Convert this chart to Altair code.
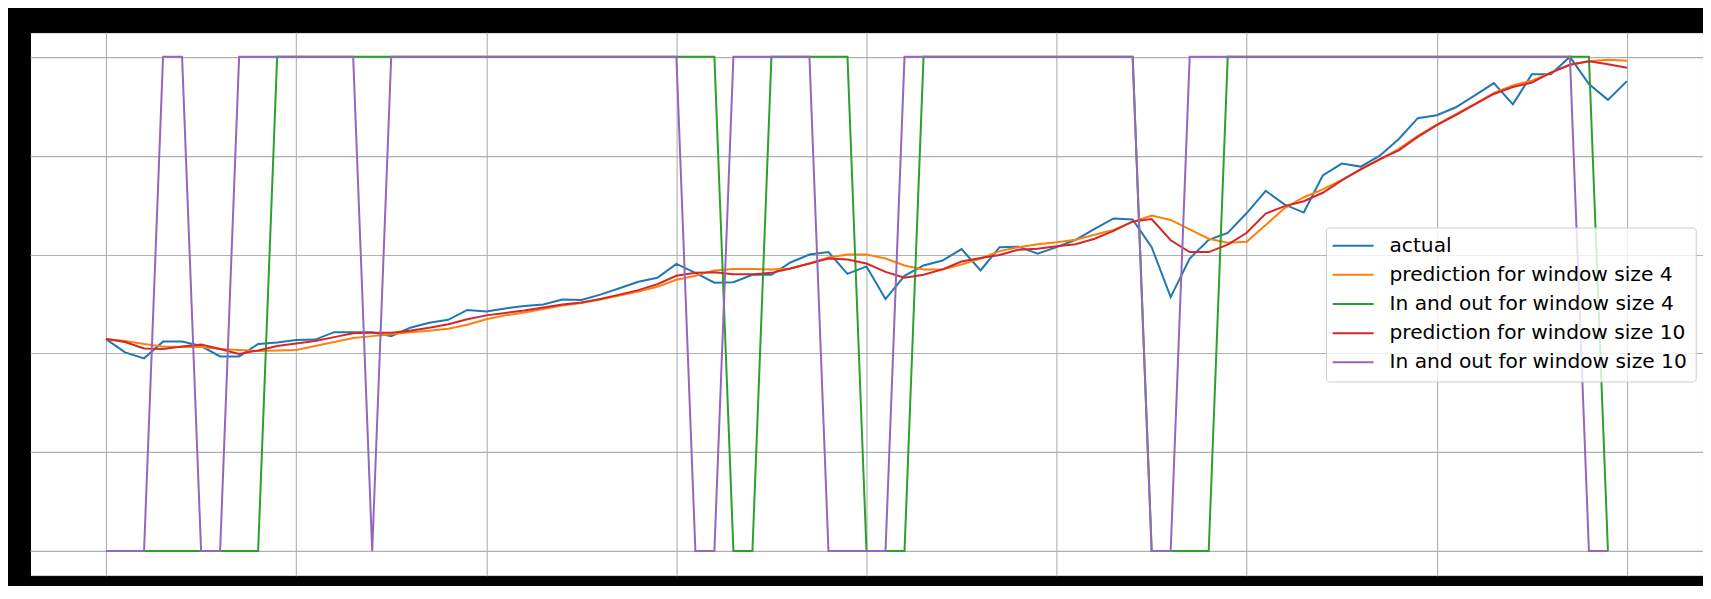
import pandas as pd
import altair as alt

steps = list(range(81))

actual = [
    0.429, 0.402, 0.390, 0.424, 0.424, 0.415, 0.394, 0.394, 0.419, 0.422,
    0.427, 0.428, 0.443, 0.443, 0.443, 0.435, 0.452, 0.462, 0.468, 0.488,
    0.485, 0.491, 0.496, 0.499, 0.509, 0.508, 0.519, 0.532, 0.545, 0.553,
    0.581, 0.563, 0.543, 0.544, 0.559, 0.559, 0.584, 0.600, 0.605, 0.561,
    0.576, 0.510, 0.557, 0.578, 0.588, 0.611, 0.568, 0.615, 0.616, 0.602,
    0.615, 0.630, 0.652, 0.673, 0.671, 0.615, 0.514, 0.592, 0.630, 0.644,
    0.684, 0.729, 0.701, 0.685, 0.760, 0.784, 0.778, 0.800, 0.834, 0.876,
    0.882, 0.898, 0.922, 0.947, 0.904, 0.965, 0.965, 1.000, 0.945, 0.913,
    0.951,
]

pred_w4 = [
    0.429, 0.425, 0.419, 0.414, 0.413, 0.413, 0.409, 0.407, 0.405, 0.406,
    0.407, 0.415, 0.423, 0.431, 0.435, 0.439, 0.443, 0.446, 0.450, 0.458,
    0.469, 0.477, 0.483, 0.490, 0.497, 0.502, 0.509, 0.517, 0.525, 0.535,
    0.549, 0.557, 0.568, 0.571, 0.571, 0.570, 0.572, 0.582, 0.594, 0.600,
    0.600, 0.592, 0.578, 0.570, 0.570, 0.580, 0.592, 0.607, 0.615, 0.621,
    0.625, 0.630, 0.640, 0.650, 0.666, 0.679, 0.670, 0.651, 0.632, 0.624,
    0.626, 0.660, 0.694, 0.716, 0.732, 0.751, 0.772, 0.792, 0.814, 0.840,
    0.863, 0.884, 0.905, 0.927, 0.942, 0.952, 0.968, 0.984, 0.991, 0.994,
    0.992,
]

pred_w10 = [
    0.429, 0.423, 0.410, 0.409, 0.414, 0.418, 0.409, 0.399, 0.406, 0.415,
    0.420, 0.425, 0.433, 0.441, 0.442, 0.442, 0.446, 0.452, 0.459, 0.469,
    0.477, 0.482, 0.487, 0.493, 0.499, 0.503, 0.510, 0.519, 0.528, 0.540,
    0.557, 0.563, 0.564, 0.560, 0.560, 0.563, 0.572, 0.582, 0.592, 0.590,
    0.582, 0.565, 0.553, 0.559, 0.570, 0.586, 0.593, 0.599, 0.610, 0.612,
    0.617, 0.621, 0.632, 0.648, 0.667, 0.672, 0.629, 0.605, 0.605, 0.620,
    0.644, 0.683, 0.698, 0.708, 0.725, 0.750, 0.773, 0.793, 0.811, 0.838,
    0.862, 0.882, 0.904, 0.925, 0.939, 0.948, 0.968, 0.984, 0.991, 0.985,
    0.978,
]

in_out_w4 = [
    0, 0, 0, 0, 0, 0, 0, 0, 0, 1,
    1, 1, 1, 1, 1, 1, 1, 1, 1, 1,
    1, 1, 1, 1, 1, 1, 1, 1, 1, 1,
    1, 1, 1, 0, 0, 1, 1, 1, 1, 1,
    0, 0, 0, 1, 1, 1, 1, 1, 1, 1,
    1, 1, 1, 1, 1, 0, 0, 0, 0, 1,
    1, 1, 1, 1, 1, 1, 1, 1, 1, 1,
    1, 1, 1, 1, 1, 1, 1, 1, 1, 0,
]

in_out_w10 = [
    0, 0, 0, 1, 1, 0, 0, 1, 1, 1,
    1, 1, 1, 1, 0, 1, 1, 1, 1, 1,
    1, 1, 1, 1, 1, 1, 1, 1, 1, 1,
    1, 0, 0, 1, 1, 1, 1, 1, 0, 0,
    0, 0, 1, 1, 1, 1, 1, 1, 1, 1,
    1, 1, 1, 1, 1, 0, 0, 1, 1, 1,
    1, 1, 1, 1, 1, 1, 1, 1, 1, 1,
    1, 1, 1, 1, 1, 1, 1, 1, 0, 0,
]

names = [
    "actual",
    "prediction for window size 4",
    "In and out for window size 4",
    "prediction for window size 10",
    "In and out for window size 10",
]
colors = ["#1f77b4", "#ff7f0e", "#2ca02c", "#d62728", "#9467bd"]
x_ticks = [0, 10, 20, 30, 40, 50, 60, 70, 80]
y_ticks = [0.0, 0.2, 0.4, 0.6, 0.8, 1.0]

grid_axis = dict(
    labels=False, ticks=False, domain=False, grid=True,
    gridColor="#b0b0b0", gridWidth=1.1, title=None,
)

legend = alt.Legend(
    title=None,
    orient="none",
    legendX=1296.7,
    legendY=195.5,
    symbolType="M-2.5625,0H2.5625",
    symbolSize=256,
    symbolStrokeWidth=2,
    symbolOffset=9.1,
    labelOffset=26.3,
    labelFont="DejaVu Sans",
    labelFontSize=20.2,
    labelColor="black",
    labelLimit=500,
    rowPadding=8.2,
    padding=8,
    fillColor="rgba(255,255,255,0.8)",
    strokeColor="#cccccc",
    cornerRadius=3,
)


def line_layer(name, values):
    df = pd.DataFrame({
        "step": steps[:len(values)],
        "value": values,
        "series": name,
    })
    return alt.Chart(df).mark_line(strokeWidth=2).encode(
        x=alt.X("step:Q",
                scale=alt.Scale(domain=[-4, 84], nice=False, zero=False),
                axis=alt.Axis(values=x_ticks, **grid_axis)),
        y=alt.Y("value:Q",
                scale=alt.Scale(domain=[-0.05, 1.05], nice=False, zero=False),
                axis=alt.Axis(values=y_ticks, **grid_axis)),
        color=alt.Color("series:N",
                        scale=alt.Scale(domain=names, range=colors),
                        legend=legend),
    )


series = [actual, pred_w4, in_out_w4, pred_w10, in_out_w10]
layers = [line_layer(n, v) for n, v in zip(names, series)]

chart = (
    alt.layer(*layers)
    .properties(
        width=1674,
        height=544,
        autosize="none",
        padding={"left": 22, "top": 24, "right": 0, "bottom": 10},
        background="black",
    )
    .configure_view(fill="white", stroke="black")
)

chart.save("out.html", embed_options={"renderer": "svg", "actions": False})
